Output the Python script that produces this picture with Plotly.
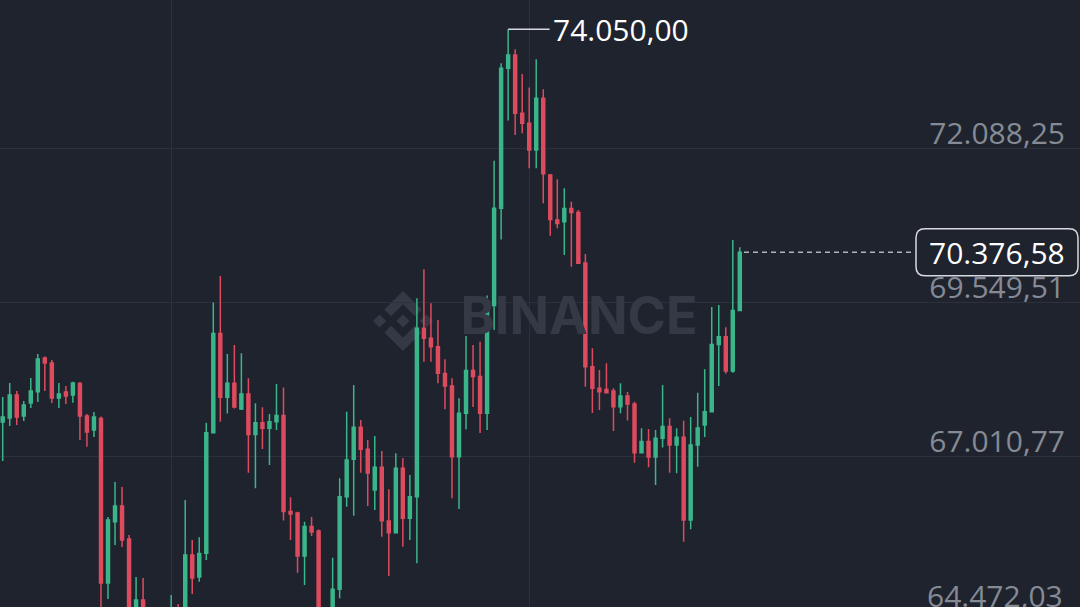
import plotly.graph_objects as go

# ---------------- data ----------------
candle_index = list(range(106))

opens = [67582, 67648, 68027, 67681, 67895, 68081, 68636, 68553, 67977, 68076,
         68027, 68216, 67681, 67450, 67640, 64931, 65941, 66199, 65656, 64404,
         64651, 64404, 64075, 64240, 64240, 64520, 64454, 65392, 65030, 65420,
         67406, 69039, 67989, 68219, 67796, 68043, 67376, 67571, 67478, 67587,
         67689, 66109, 66084, 65376, 65862, 65787, 64454, 64322, 64828, 66352,
         66968, 67495, 67133, 66462, 66836, 65952, 65759, 66820, 65997, 66352,
         69125, 68960, 68822, 68380, 68175, 67011, 67725, 68430, 68331, 67725,
         69500, 71100, 73405, 73624, 72664, 72500, 72060, 72911, 71649, 70908,
         70880, 71097, 71031, 70200, 68493, 68137, 68117, 68092, 67834, 68010,
         67878, 67077, 67261, 67006, 67314, 67508, 67203, 67330, 65969, 67203,
         67533, 67752, 68858, 68986, 68422, 69418]

highs = [67994, 68224, 68092, 67928, 68306, 68702, 68660, 68603, 68224, 68175,
         68246, 68241, 67714, 67747, 67673, 66018, 66594, 66512, 65722, 65030,
         65014, 64487, 64454, 64503, 64734, 64586, 66298, 65639, 65684, 67571,
         69549, 69986, 68702, 68850, 68713, 68302, 67890, 67824, 67714, 68208,
         68150, 66342, 66105, 65941, 66018, 65812, 64487, 65348, 66655, 67752,
         68191, 67615, 67286, 67352, 67105, 66474, 67067, 66984, 66709, 69619,
         70096, 69536, 69261, 68614, 68302, 67972, 68998, 68850, 68904, 69665,
         71884, 73488, 74050.00, 73718, 73312, 73089, 73554, 73060, 71665, 71578,
         71430, 71209, 71072, 70348, 68795, 68438, 68548, 68137, 68219, 68076,
         67916, 67478, 67467, 67450, 68191, 67643, 67478, 67603, 67664, 68064,
         68450, 69475, 69508, 69141, 70578, 70458]

lows = [66940, 67516, 67533, 67599, 67813, 67911, 68092, 67895, 67813, 67878,
        67900, 67286, 67175, 67335, 64240, 64668, 65557, 65524, 64158, 64240,
        64158, 63910, 63828, 63993, 64125, 63993, 64240, 64750, 64953, 65310,
        67396, 67587, 67722, 67804, 67780, 66747, 66490, 67138, 66874, 67450,
        65960, 65639, 65101, 64898, 65705, 64240, 63910, 64075, 64679, 66188,
        66039, 66747, 66199, 66133, 65694, 65047, 65750, 65529, 65639, 65256,
        68575, 68575, 68219, 67791, 66326, 66150, 67462, 67829, 67401, 67450,
        69097, 70587, 72546, 72307, 72335, 71759, 71759, 71183, 70649, 70771,
        70332, 70139, 70192, 68163, 67730, 67780, 68060, 67434, 67725, 67607,
        66912, 67067, 66836, 66545, 67162, 66747, 66737, 65611, 65815, 66846,
        67335, 67752, 68175, 68377, 68394, 69410]

closes = [67664, 68027, 67664, 67862, 68092, 68619, 68553, 67977, 68043, 68010,
          68224, 67681, 67417, 67664, 64931, 65969, 66199, 65639, 64454, 64651,
          64404, 64075, 64240, 64404, 64487, 64240, 65392, 65014, 65417, 67406,
          69039, 67989, 68219, 67829, 68043, 67376, 67571, 67478, 67587, 67689,
          66109, 66067, 65376, 65862, 65771, 64454, 64158, 64828, 66352, 66956,
          67495, 67133, 66742, 66836, 65957, 65759, 66820, 65997, 66352, 69125,
          68960, 68822, 68384, 68175, 67011, 67725, 68430, 68331, 67725, 69492,
          71100, 73405, 73624, 72664, 72500, 72060, 72911, 71670, 70916, 70850,
          71097, 71031, 70195, 68493, 68137, 68081, 68064, 67834, 68010, 67878,
          67077, 67261, 67006, 67314, 67508, 67203, 67330, 65969, 67203, 67483,
          67752, 68858, 68986, 68422, 69418, 70376.58]

price_ticks = [64472.03, 67010.77, 69549.51, 72088.25]
watermark_text = "BINANCE"

# ---------------- style ----------------
W, H = 1080, 607
BG = "#1f232e"
GRID = "#2c313c"
UP = "#3bb58a"
DOWN = "#dd4b5e"
WM = "#343945"
TICK_COLOR = "#858a94"
TICK_FONT = dict(family="Open Sans", size=30, color=TICK_COLOR)
Y_RANGE = [64536, 74530]
X_RANGE = [-0.385, 153.46]


def fmt(v):
    s = f"{v:,.2f}"
    return s.replace(",", "X").replace(".", ",").replace("X", ".")


def px_to_paper(px, py):
    return px / W, 1 - py / H


def y_to_paper(v):
    return (v - Y_RANGE[0]) / (Y_RANGE[1] - Y_RANGE[0])


fig = go.Figure()

# watermark text (drawn first so candles sit on top of it)
fig.add_trace(go.Scatter(
    x=[82.1], y=[69245], mode="text", text=[watermark_text],
    textfont=dict(family="Inter", size=52, color=WM, weight=700),
    hoverinfo="skip", showlegend=False))

fig.add_trace(go.Candlestick(
    x=candle_index, open=opens, high=highs, low=lows, close=closes,
    increasing=dict(line=dict(color=UP, width=1.5), fillcolor=UP),
    decreasing=dict(line=dict(color=DOWN, width=1.5), fillcolor=DOWN),
    whiskerwidth=0, showlegend=False, hoverinfo="skip"))

shapes = []

# Binance logo (watermark) made of polygons, below the traces
cx, cy, s = 403, 321, 30
logo_polys = [
    [(0, 1), (0.62, 0.38), (0.4, 0.16), (0, 0.56), (-0.4, 0.16), (-0.62, 0.38)],
    [(0, -1), (0.62, -0.38), (0.4, -0.16), (0, -0.56), (-0.4, -0.16), (-0.62, -0.38)],
    [(0, 0.22), (0.22, 0), (0, -0.22), (-0.22, 0)],
    [(-0.78, 0.22), (-0.56, 0), (-0.78, -0.22), (-1.0, 0)],
    [(0.78, 0.22), (0.56, 0), (0.78, -0.22), (1.0, 0)],
]
for poly in logo_polys:
    pts = [px_to_paper(cx + u * s, cy - v * s) for u, v in poly]
    path = "M " + " L ".join(f"{x:.5f},{y:.5f}" for x, y in pts) + " Z"
    shapes.append(dict(type="path", path=path, xref="paper", yref="paper",
                       fillcolor=WM, line=dict(width=0), layer="below"))

# max high marker line
hi_idx = max(candle_index, key=lambda i: highs[i])
hi_val = highs[hi_idx]
shapes.append(dict(type="line", xref="x", yref="y", x0=hi_idx, x1=hi_idx + 5.9,
                   y0=hi_val, y1=hi_val, line=dict(color="#d6d8dc", width=1.5)))

# last price dashed line
last_idx = candle_index[-1]
last_price = closes[-1]
shapes.append(dict(type="line", xref="x", yref="y", x0=last_idx + 0.6, x1=last_idx + 25,
                   y0=last_price, y1=last_price,
                   line=dict(color="#b0b4bb", width=1.5, dash="5px,4px")))

# rounded box for last price
bx0, bx1 = 916 / W, 1078 / W
yc = y_to_paper(last_price)
hh = 23.5 / H
by0, by1 = yc - hh, yc + hh
rx, ry = 9 / W, 9 / H
box_path = (f"M {bx0+rx},{by1} L {bx1-rx},{by1} Q {bx1},{by1} {bx1},{by1-ry} "
            f"L {bx1},{by0+ry} Q {bx1},{by0} {bx1-rx},{by0} L {bx0+rx},{by0} "
            f"Q {bx0},{by0} {bx0},{by0+ry} L {bx0},{by1-ry} Q {bx0},{by1} {bx0+rx},{by1} Z")
shapes.append(dict(type="path", path=box_path, xref="paper", yref="paper",
                   fillcolor=BG, line=dict(color="#d8dadf", width=1.5), layer="above"))

annotations = [
    dict(x=hi_idx + 6.1, y=hi_val, xref="x", yref="y", text=fmt(hi_val),
         showarrow=False, xanchor="left", yanchor="middle",
         font=dict(family="Open Sans", size=30, color="#ffffff")),
    dict(x=(bx0 + bx1) / 2, y=yc, xref="paper", yref="paper", text=fmt(last_price),
         showarrow=False, xanchor="center", yanchor="middle",
         font=dict(family="Open Sans", size=30, color="#ffffff")),
]

# price ticks that fall just below the visible range keep their label at the bottom edge
for t in price_ticks:
    if t < Y_RANGE[0]:
        annotations.append(dict(x=1065 / W, y=y_to_paper(t), xref="paper", yref="paper",
                                text=fmt(t), showarrow=False, xanchor="right",
                                yanchor="middle", yshift=15, font=TICK_FONT))

fig.update_layout(
    width=W, height=H,
    margin=dict(l=0, r=0, t=0, b=0),
    paper_bgcolor=BG, plot_bgcolor=BG,
    separators=",.",
    boxgap=0.4, boxgroupgap=0.3,
    showlegend=False, hovermode=False,
    shapes=shapes, annotations=annotations,
    xaxis=dict(range=X_RANGE, tickvals=[24, 75], showgrid=True, gridcolor=GRID,
               gridwidth=1, showticklabels=False, zeroline=False, showline=False,
               ticks="", rangeslider=dict(visible=False), fixedrange=True),
    yaxis=dict(side="right", range=Y_RANGE, tickvals=price_ticks, tickformat=",.2f",
               ticklabelposition="inside top", ticklabelstandoff=12, ticklabelshift=6,
               tickfont=TICK_FONT,
               showgrid=True, gridcolor=GRID, gridwidth=1, zeroline=False,
               showline=False, ticks="", fixedrange=True),
)

fig.write_html("out.html", config={"displayModeBar": False},
               post_script="document.body.style.margin='0';document.body.style.background='#1f232e';")
